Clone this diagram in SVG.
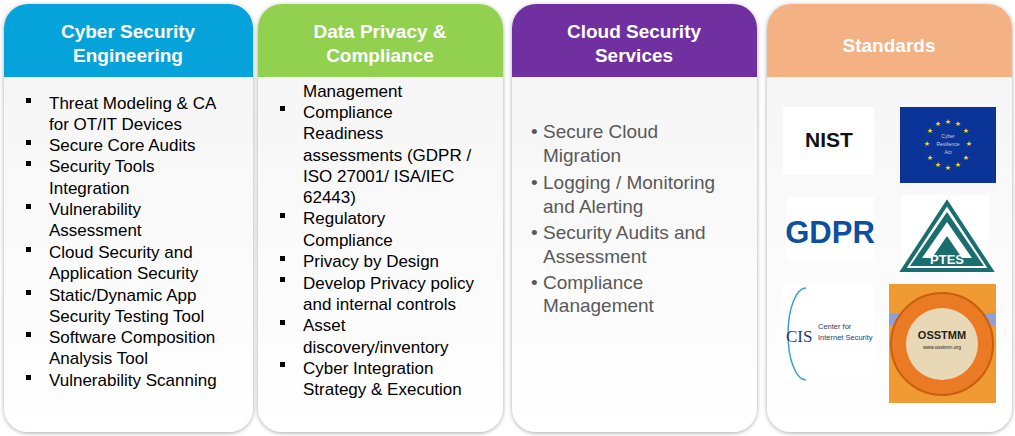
<svg xmlns="http://www.w3.org/2000/svg" width="1015" height="436" viewBox="0 0 1015 436">
<defs>
<linearGradient id="body" x1="0" y1="0" x2="0" y2="1"><stop offset="0" stop-color="#f4f4f4"/><stop offset="1" stop-color="#ffffff"/></linearGradient>
<filter id="sh" x="-5%" y="-5%" width="110%" height="110%"><feDropShadow dx="0" dy="1" stdDeviation="2" flood-color="#000" flood-opacity="0.35"/></filter>
</defs>
<style>
.hd{font-family:"Liberation Sans",Arial,sans-serif;font-weight:bold;font-size:19px;fill:#fff;text-anchor:middle}
.t{font-family:"Liberation Sans",Arial,sans-serif;font-size:17px;fill:#000}
.t3{font-family:"Liberation Sans",Arial,sans-serif;font-size:19px;fill:#595959}
.b{fill:#000}
</style>
<rect width="1015" height="436" fill="#fff"/>
<g id="col1">
<rect x="4" y="4" width="249" height="428" rx="24" fill="url(#body)" filter="url(#sh)"/>
<path d="M4 77 V28 A24 24 0 0 1 28 4 H229 A24 24 0 0 1 253 28 V77 Z" fill="#06a3da"/>
<text class="hd"><tspan x="128" y="38">Cyber Security</tspan><tspan x="128" y="62">Engineering</tspan></text>
<g class="b"><rect x="26" y="98" width="5" height="5"/><rect x="26" y="140" width="5" height="5"/><rect x="26" y="161" width="5" height="5"/><rect x="26" y="204" width="5" height="5"/><rect x="26" y="247" width="5" height="5"/><rect x="26" y="290" width="5" height="5"/><rect x="26" y="332" width="5" height="5"/><rect x="26" y="375" width="5" height="5"/></g>
<text class="t"><tspan x="49" y="109">Threat Modeling &amp; CA</tspan><tspan x="49" y="130">for OT/IT Devices</tspan><tspan x="49" y="151">Secure Core Audits</tspan><tspan x="49" y="172">Security Tools</tspan><tspan x="49" y="194">Integration</tspan><tspan x="49" y="215">Vulnerability</tspan><tspan x="49" y="236">Assessment</tspan><tspan x="49" y="258">Cloud Security and</tspan><tspan x="49" y="279">Application Security</tspan><tspan x="49" y="301">Static/Dynamic App</tspan><tspan x="49" y="322">Security Testing Tool</tspan><tspan x="49" y="343">Software Composition</tspan><tspan x="49" y="364">Analysis Tool</tspan><tspan x="49" y="386">Vulnerability Scanning</tspan></text>
</g>
<g id="col2">
<rect x="258" y="4" width="245" height="428" rx="24" fill="url(#body)" filter="url(#sh)"/>
<path d="M258 77 V28 A24 24 0 0 1 282 4 H479 A24 24 0 0 1 503 28 V77 Z" fill="#92d050"/>
<text class="hd"><tspan x="380" y="38">Data Privacy &amp;</tspan><tspan x="380" y="62">Compliance</tspan></text>
<g class="b"><rect x="280" y="106" width="5" height="5"/><rect x="280" y="213" width="5" height="5"/><rect x="280" y="256" width="5" height="5"/><rect x="280" y="277" width="5" height="5"/><rect x="280" y="320" width="5" height="5"/><rect x="280" y="362" width="5" height="5"/></g>
<text class="t"><tspan x="303" y="97">Management</tspan><tspan x="303" y="118">Compliance</tspan><tspan x="303" y="139">Readiness</tspan><tspan x="303" y="161">assessments (GDPR /</tspan><tspan x="303" y="182">ISO 27001/ ISA/IEC</tspan><tspan x="303" y="203">62443)</tspan><tspan x="303" y="224">Regulatory</tspan><tspan x="303" y="246">Compliance</tspan><tspan x="303" y="267">Privacy by Design</tspan><tspan x="303" y="289">Develop Privacy policy</tspan><tspan x="303" y="310">and internal controls</tspan><tspan x="303" y="331">Asset</tspan><tspan x="303" y="353">discovery/inventory</tspan><tspan x="303" y="374">Cyber Integration</tspan><tspan x="303" y="395">Strategy &amp; Execution</tspan></text>
</g>
<g id="col3">
<rect x="512" y="4" width="245" height="428" rx="24" fill="url(#body)" filter="url(#sh)"/>
<path d="M512 77 V28 A24 24 0 0 1 536 4 H733 A24 24 0 0 1 757 28 V77 Z" fill="#7030a0"/>
<text class="hd"><tspan x="634" y="38">Cloud Security</tspan><tspan x="634" y="62">Services</tspan></text>
<text class="t3"><tspan x="531" y="138">•</tspan><tspan x="543" y="138">Secure Cloud</tspan><tspan x="543" y="162">Migration</tspan><tspan x="531" y="189">•</tspan><tspan x="543" y="189">Logging / Monitoring</tspan><tspan x="543" y="213">and Alerting</tspan><tspan x="531" y="239">•</tspan><tspan x="543" y="239">Security Audits and</tspan><tspan x="543" y="263">Assessment</tspan><tspan x="531" y="289">•</tspan><tspan x="543" y="289">Compliance</tspan><tspan x="543" y="312">Management</tspan></text>
</g>
<g id="col4">
<rect x="767" y="4" width="245" height="428" rx="24" fill="url(#body)" filter="url(#sh)"/>
<path d="M767 77 V28 A24 24 0 0 1 791 4 H988 A24 24 0 0 1 1012 28 V77 Z" fill="#f4b183"/>
<text class="hd" x="889" y="52">Standards</text>
<g id="nist"><rect x="783" y="107" width="91" height="67" fill="#fff"/><text x="829" y="147" font-family="'Liberation Sans',Arial,sans-serif" font-weight="bold" font-size="21" text-anchor="middle" fill="#111">NIST</text></g>
<g id="cra"><rect x="900" y="107" width="96" height="76" fill="#0a3497"/><text font-family="'Liberation Sans',Arial,sans-serif" font-size="5" fill="#ccd" text-anchor="middle"><tspan x="948" y="138">Cyber</tspan><tspan x="948" y="146">Resilience</tspan><tspan x="948" y="154">Act</tspan></text>
<g fill="#ffdd00" font-family="'DejaVu Sans',sans-serif" font-size="7" text-anchor="middle"><text x="948" y="124">★</text><text x="958" y="126">★</text><text x="966" y="133">★</text><text x="969" y="146">★</text><text x="966" y="160">★</text><text x="958" y="167">★</text><text x="948" y="170">★</text><text x="938" y="167">★</text><text x="930" y="160">★</text><text x="927" y="146">★</text><text x="930" y="133">★</text><text x="938" y="126">★</text></g></g>
<g id="gdpr"><rect x="786" y="197" width="88" height="63" fill="#fff"/><text x="830" y="243" font-family="'Liberation Sans',Arial,sans-serif" font-weight="bold" font-size="31" text-anchor="middle" fill="#0d4fa0">GDPR</text></g>
<g id="ptes"><rect x="901" y="195" width="88" height="75" fill="#fff"/><path d="M903 270 L947 203 L991 270 Z" fill="#fff" stroke="#1a6e70" stroke-width="4"/><path d="M910 266 L947 212 L984 266 Z" fill="#1a6e70"/><path d="M922 258 L947 222 L972 258 L962 258 L947 236 L932 258 Z" fill="#fff"/><text x="947" y="264" font-family="'Liberation Sans',Arial,sans-serif" font-weight="bold" font-size="13" text-anchor="middle" fill="#fff">PTES</text></g>
<g id="cis"><rect x="783" y="284" width="91" height="97" fill="#fff"/><path d="M806 288 A18 46 0 0 0 806 380" fill="none" stroke="#3aa0d8" stroke-width="1.5"/><text x="786" y="342" font-family="'Liberation Serif',serif" font-size="17" fill="#1f3d6e">CIS</text><text font-family="'Liberation Sans',Arial,sans-serif" font-size="7.5" fill="#1f3d6e"><tspan x="818" y="329">Center for</tspan><tspan x="818" y="340">Internet Security</tspan></text></g>
<g id="osstmm"><rect x="889" y="284" width="107" height="119" fill="#ef9a32"/><rect x="889" y="313" width="107" height="12" fill="#8fa0d8"/><circle cx="942" cy="344" r="51" fill="#ea7b24" stroke="#c85e10" stroke-width="2"/><circle cx="942" cy="344" r="36" fill="#e8d8b6"/><text x="942" y="339" font-family="'Liberation Sans',Arial,sans-serif" font-weight="bold" font-size="11" text-anchor="middle" fill="#222">OSSTMM</text><text x="942" y="349" font-family="'Liberation Sans',Arial,sans-serif" font-size="5" text-anchor="middle" fill="#222">www.osstmm.org</text></g>
</g>
<g id="connectors"/>
</svg>
